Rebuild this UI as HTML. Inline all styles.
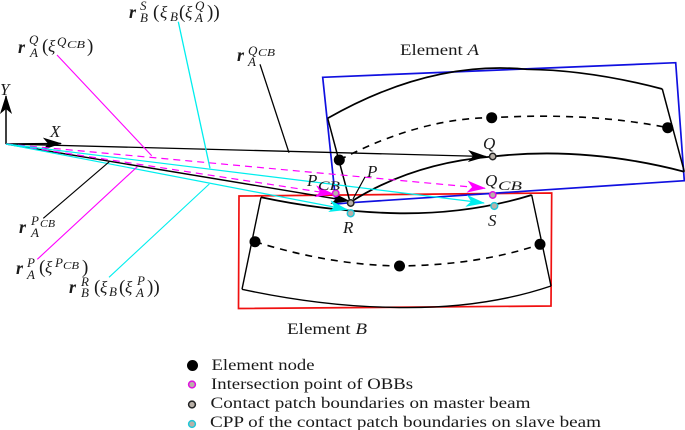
<!DOCTYPE html>
<html><head><meta charset="utf-8"><style>
html,body{margin:0;padding:0;background:#fff}
svg{display:block}
text{font-family:"Liberation Serif",serif;fill:#1a1a1a}
.i{font-style:italic}
.b{font-weight:bold;font-style:italic;font-size:18px}
.m{font-style:italic;font-size:17px}
.s{font-style:italic;font-size:13px}
.t{font-style:italic;font-size:10px}
.p{font-size:19px}
</style></head><body>
<svg width="685" height="430" viewBox="0 0 685 430" xmlns="http://www.w3.org/2000/svg">
<defs>
<marker id="ak" markerWidth="20" markerHeight="12" refX="18" refY="6" orient="auto" markerUnits="userSpaceOnUse"><path d="M0,0 L19,6 L0,12 L5,6Z" fill="#000"/></marker>
<marker id="am" markerWidth="20" markerHeight="12" refX="18" refY="6" orient="auto" markerUnits="userSpaceOnUse"><path d="M0,0 L19,6 L0,12 L5,6Z" fill="#f0f"/></marker>
<marker id="ac" markerWidth="20" markerHeight="12" refX="18" refY="6" orient="auto" markerUnits="userSpaceOnUse"><path d="M0,0 L19,6 L0,12 L5,6Z" fill="#0ee"/></marker>
</defs>

<!-- boxes -->
<path d="M239,196 L551.7,193 L551,306 L238.5,308.5Z" fill="none" stroke="#f01010" stroke-width="1.7"/>
<path d="M322.7,77.3 L675.7,62.7 L684.3,180.7 L350.7,202.7 L336,204Z" fill="none" stroke="#1010e0" stroke-width="1.7"/>

<!-- Element A -->
<g fill="none" stroke="#000">
<path d="M327.7,118.3 Q430,60 526.7,69.3 Q590,70 662.3,89" stroke-width="1.7"/>
<path d="M662.3,89 L684.3,171.7" stroke-width="1.5"/>
<path d="M327.7,118.3 L350,202" stroke-width="1.5"/>
<path d="M350.7,202 Q412,163 492.7,156.5 Q585,146 684.3,171.7" stroke-width="1.8"/>
<path d="M339.3,160 Q420,118 491.7,117.7 Q590,112 667.7,127.7" stroke-width="1.6" stroke-dasharray="7,6"/>
<!-- Element B -->
<path d="M261,197.3 Q330,212 400,213.3 Q470,214 531.7,195" stroke-width="1.8"/>
<path d="M261,197.3 L242,289.3" stroke-width="1.4"/>
<path d="M531.7,195 L551,286" stroke-width="1.4"/>
<path d="M242,289.3 Q320,306 390,307.3 Q480,310 551,286" stroke-width="1.4"/>
<path d="M255,241.7 Q330,265 399.3,266 Q480,265 540,244.3" stroke-width="1.6" stroke-dasharray="7,6"/>
</g>

<!-- axes -->
<path d="M6,144 L6,96" stroke="#000" stroke-width="1.5" marker-end="url(#ak)" fill="none"/>
<path d="M6,144 L61,143.5" stroke="#000" stroke-width="1.5" marker-end="url(#ak)" fill="none"/>

<!-- rays -->
<path d="M6,144 L486,156.5" stroke="#000" stroke-width="1.3" marker-end="url(#ak)"/>
<path d="M6,144 L349,201" stroke="#000" stroke-width="1.4" marker-end="url(#ak)"/>
<path d="M6,144 L485,188.3" stroke="#f0f" stroke-width="1.2" stroke-dasharray="7,5" marker-end="url(#am)"/>
<path d="M6,144 L333,194" stroke="#f0f" stroke-width="1.2" stroke-dasharray="7,5" marker-end="url(#am)"/>
<path d="M6,144 L484,203" stroke="#0ee" stroke-width="1.2" marker-end="url(#ac)"/>
<path d="M6,144 L347,209.5" stroke="#0ee" stroke-width="1.2" marker-end="url(#ac)"/>

<!-- leaders -->
<path d="M57,55 L151.7,155.7" stroke="#f0f" stroke-width="1.1"/>
<path d="M178.3,21.7 L210,168.3" stroke="#0ee" stroke-width="1.3"/>
<path d="M260,64.3 L289,152.7" stroke="#000" stroke-width="1.3"/>
<path d="M43.3,218.3 L109.3,161.7" stroke="#000" stroke-width="1.1"/>
<path d="M37.3,259.3 L137.3,166.7" stroke="#f0f" stroke-width="1.1"/>
<path d="M109,277.3 L209.3,184" stroke="#0ee" stroke-width="1.1"/>
<path d="M353,199 L365,177" stroke="#000" stroke-width="1.2"/>

<!-- nodes -->
<g fill="#000">
<circle cx="339.3" cy="160" r="5.5"/><circle cx="491.7" cy="117.7" r="5.5"/><circle cx="667.7" cy="127.7" r="5.5"/>
<circle cx="255" cy="241.7" r="5.5"/><circle cx="399.5" cy="266" r="5.5"/><circle cx="540" cy="244.3" r="5.5"/>
<circle cx="192.5" cy="365.5" r="5.5"/>
</g>
<g fill="#b8b0a8" stroke-width="1.5">
<circle cx="335.7" cy="193.3" r="3.2" stroke="#e010e0"/>
<circle cx="492.7" cy="195" r="3.2" stroke="#e010e0"/>
<circle cx="350.7" cy="203" r="3.2" stroke="#222"/>
<circle cx="492.7" cy="156.5" r="3.2" stroke="#222"/>
<circle cx="350.7" cy="213.3" r="3.4" stroke="#20c8d8"/>
<circle cx="494.3" cy="206" r="3.4" stroke="#20c8d8"/>
<circle cx="192" cy="384.5" r="3.4" stroke="#e010e0"/>
<circle cx="192" cy="404.5" r="3.4" stroke="#222"/>
<circle cx="192" cy="424" r="3.4" stroke="#20c8d8"/>
</g>

<!-- labels -->
<text x="400" y="55" font-size="16" textLength="79" lengthAdjust="spacingAndGlyphs">Element <tspan class="i">A</tspan></text>
<text x="287" y="334" font-size="16" textLength="80" lengthAdjust="spacingAndGlyphs">Element <tspan class="i">B</tspan></text>

<text class="m" x="0" y="95">Y</text>
<text class="m" x="50" y="137">X</text>
<text class="m" x="483" y="149">Q</text>
<text class="m" x="367" y="177">P</text>
<text class="m" x="343" y="233">R</text>
<text class="m" x="488" y="226">S</text>
<text class="m" x="307" y="186">P</text><text class="s" x="318" y="190" textLength="22" lengthAdjust="spacingAndGlyphs">CB</text>
<text class="m" x="485" y="186">Q</text><text class="s" x="498" y="190" textLength="24" lengthAdjust="spacingAndGlyphs">CB</text>

<!-- r_A^Q(xi^QCB) -->
<text class="b" x="18" y="53">r</text>
<text class="s" x="29" y="44">Q</text><text class="s" x="30" y="57">A</text>
<text class="p" x="42" y="52">(</text><text class="m" x="48" y="52">ξ</text>
<text class="s" x="57" y="46">Q</text><text class="t" x="67" y="48" textLength="18" lengthAdjust="spacingAndGlyphs">CB</text>
<text class="p" x="87" y="52">)</text>

<!-- r_B^S(xi_B(xi_A^Q)) -->
<text class="b" x="129" y="18">r</text>
<text class="s" x="140" y="10">S</text><text class="s" x="140" y="22">B</text>
<text class="p" x="153" y="18">(</text><text class="m" x="160" y="18">ξ</text><text class="s" x="170" y="21">B</text>
<text class="p" x="179" y="18">(</text><text class="m" x="185" y="18">ξ</text>
<text class="s" x="195" y="10">Q</text><text class="s" x="195" y="22">A</text>
<text class="p" x="207" y="18">))</text>

<!-- r_A^QCB -->
<text class="b" x="237" y="61">r</text>
<text class="s" x="248" y="55">Q</text><text class="t" x="258" y="56" textLength="17" lengthAdjust="spacingAndGlyphs">CB</text>
<text class="s" x="248" y="66">A</text>

<!-- r_A^PCB -->
<text class="b" x="19" y="233">r</text>
<text class="s" x="31" y="225">P</text><text class="t" x="40" y="227" textLength="15" lengthAdjust="spacingAndGlyphs">CB</text>
<text class="s" x="31" y="237">A</text>

<!-- r_A^P(xi^PCB) -->
<text class="b" x="16" y="274">r</text>
<text class="s" x="27" y="267">P</text><text class="s" x="27" y="279">A</text>
<text class="p" x="39" y="273">(</text><text class="m" x="45" y="273">ξ</text>
<text class="s" x="55" y="267">P</text><text class="t" x="63" y="269" textLength="16" lengthAdjust="spacingAndGlyphs">CB</text>
<text class="p" x="82" y="273">)</text>

<!-- r_B^R(xi_B(xi_A^P)) -->
<text class="b" x="69" y="293">r</text>
<text class="s" x="81" y="286">R</text><text class="s" x="81" y="297">B</text>
<text class="p" x="94" y="293">(</text><text class="m" x="100" y="293">ξ</text><text class="s" x="109" y="296">B</text>
<text class="p" x="119" y="293">(</text><text class="m" x="125" y="293">ξ</text>
<text class="s" x="137" y="285">P</text><text class="s" x="136" y="297">A</text>
<text class="p" x="147" y="293">))</text>

<!-- legend -->
<text x="211.5" y="370" font-size="16" textLength="103" lengthAdjust="spacingAndGlyphs">Element node</text>
<text x="211" y="389" font-size="16" textLength="202" lengthAdjust="spacingAndGlyphs">Intersection point of OBBs</text>
<text x="210.5" y="408" font-size="16" textLength="320" lengthAdjust="spacingAndGlyphs">Contact patch boundaries on master beam</text>
<text x="210" y="427" font-size="16" textLength="391" lengthAdjust="spacingAndGlyphs">CPP of the contact patch boundaries on slave beam</text>
</svg>
</body></html>
